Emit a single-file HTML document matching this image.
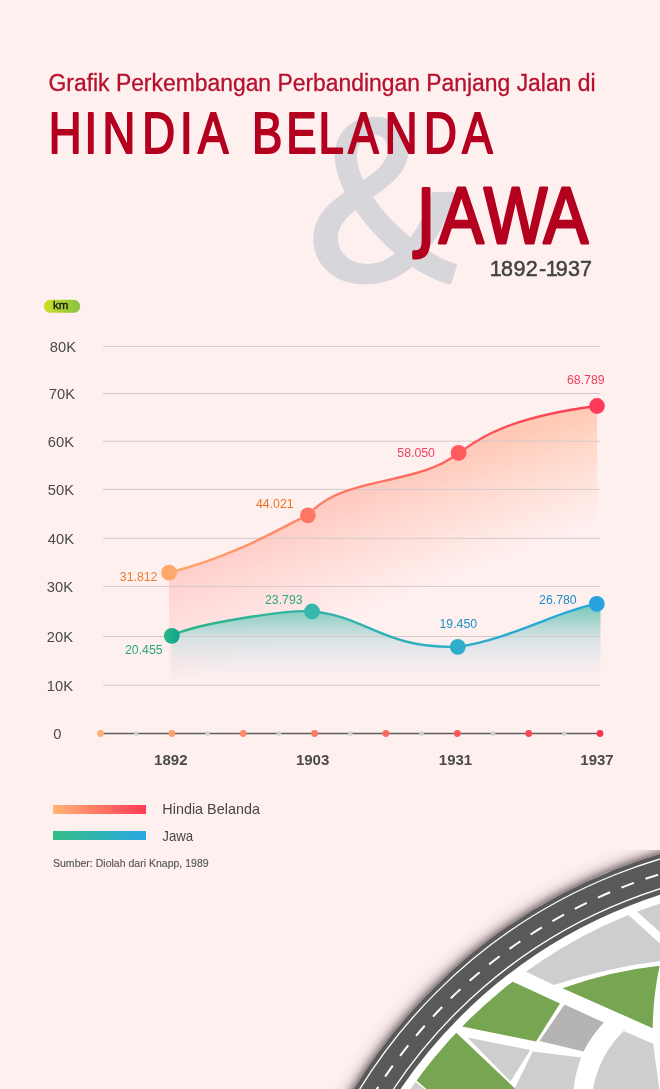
<!DOCTYPE html>
<html><head><meta charset="utf-8">
<style>
html,body{margin:0;padding:0;background:#FFF0F0;}
body{width:660px;height:1089px;overflow:hidden;position:relative;}
svg{position:absolute;left:0;top:0;display:block;}
text{font-family:"Liberation Sans",sans-serif;}
</style></head>
<body>
<svg width="660" height="1089" viewBox="0 0 660 1089">
<defs>
  <linearGradient id="gKm" x1="0" x2="1" y1="0" y2="0"><stop offset="0" stop-color="#CFDF26"/><stop offset="1" stop-color="#86C341"/></linearGradient>
  <linearGradient id="gHB" x1="0" x2="1" y1="0" y2="0"><stop offset="0" stop-color="#FFB575"/><stop offset="1" stop-color="#FF3A55"/></linearGradient>
  <linearGradient id="gJW" x1="0" x2="1" y1="0" y2="0"><stop offset="0" stop-color="#33BD86"/><stop offset="1" stop-color="#28A8E2"/></linearGradient>
  <linearGradient id="gHBline" gradientUnits="userSpaceOnUse" x1="169" x2="597" y1="0" y2="0"><stop offset="0" stop-color="#FFA868"/><stop offset="0.5" stop-color="#FF6F5E"/><stop offset="1" stop-color="#FA3D55"/></linearGradient>
  <linearGradient id="gJWline" gradientUnits="userSpaceOnUse" x1="172" x2="597" y1="0" y2="0"><stop offset="0" stop-color="#2DB583"/><stop offset="0.5" stop-color="#30B2B8"/><stop offset="1" stop-color="#27A4DF"/></linearGradient>
  <linearGradient id="gHBfill" gradientUnits="userSpaceOnUse" x1="169" y1="0" x2="597" y2="0"><stop offset="0" stop-color="#FFC4C2"/><stop offset="0.5" stop-color="#FFC3B6"/><stop offset="1" stop-color="#FFC2A6"/></linearGradient>
  <linearGradient id="gHBmask" gradientUnits="userSpaceOnUse" x1="380" y1="486" x2="421" y2="592"><stop offset="0" stop-color="#D9D9D9"/><stop offset="0.3" stop-color="#8C8C8C"/><stop offset="0.65" stop-color="#404040"/><stop offset="1" stop-color="#000000"/></linearGradient>
  <mask id="mHB" maskUnits="userSpaceOnUse" x="0" y="0" width="660" height="1089"><rect x="150" y="380" width="470" height="340" fill="url(#gHBmask)"/></mask>
  <linearGradient id="gJWfill" gradientUnits="userSpaceOnUse" x1="0" x2="0" y1="604" y2="685"><stop offset="0" stop-color="#74C8B6" stop-opacity="1"/><stop offset="0.45" stop-color="#D5E2E6" stop-opacity="0.9"/><stop offset="1" stop-color="#EEE8EC" stop-opacity="0"/></linearGradient>
  <linearGradient id="gAxis" gradientUnits="userSpaceOnUse" x1="100" x2="600" y1="0" y2="0"><stop offset="0" stop-color="#FFB070"/><stop offset="1" stop-color="#F8354F"/></linearGradient>
  <linearGradient id="gDotJ1" x1="0" x2="1" y1="0" y2="0"><stop offset="0" stop-color="#28BC82"/><stop offset="1" stop-color="#119E92"/></linearGradient>
</defs>

<!-- TITLE -->
<text x="48.5" y="90.6" font-size="23.5" fill="#B5102D" stroke="#B5102D" stroke-width="0.3" textLength="547" lengthAdjust="spacingAndGlyphs">Grafik Perkembangan Perbandingan Panjang Jalan di</text>
<text transform="matrix(1.030,0,0,1,313,283)" x="-5.2" y="-4.2" font-size="215.0" fill="#D6D6DB" stroke="#D6D6DB" stroke-width="4.6" stroke-linejoin="round" style="font-family:'Noto Sans CJK SC', sans-serif;font-weight:400">&amp;</text>
<text transform="matrix(0.8000,0,0,1,51.70,152.90)" x="-3.83 41.00 63.42 113.18 160.50 182.78 199.82 250.51 293.10 333.50 370.84 416.42 465.43 513.34" y="0" font-size="56.81" fill="#B4001F" stroke="#B4001F" stroke-width="2.0" stroke-linejoin="round">HINDIA BELANDA</text>
<text transform="matrix(0.8400,0,0,1,420.60,242.70)" x="-4.64 21.81 75.43 146.27" y="0" font-size="79.71" fill="#B4001F" stroke="#B4001F" stroke-width="3.0" stroke-linejoin="round"><tspan font-size="75.34" style="font-family:'DejaVu Sans', sans-serif">J</tspan>AWA</text>
<text transform="matrix(0.9500,0,0,1,493.75,275.95)" x="-4.19 7.69 20.91 33.64 47.77 54.73 65.38 78.28 90.70" y="0" font-size="22.71" fill="#414141" stroke="#414141" stroke-width="0.5" stroke-linejoin="round">1892-1937</text>

<!-- CHART -->
<rect x="43.8" y="299.8" width="36.4" height="13" rx="6.5" fill="url(#gKm)"/>
<text x="60.6" y="309.3" font-size="11.5" fill="#151515" stroke="#151515" stroke-width="0.35" text-anchor="middle">km</text>


<g font-size="14.7" fill="#4A4A4A" text-anchor="end">
  <text x="76" y="352">80K</text>
  <text x="75" y="399">70K</text>
  <text x="74" y="446.5">60K</text>
  <text x="74" y="494.8">50K</text>
  <text x="74" y="543.7">40K</text>
  <text x="73" y="591.8">30K</text>
  <text x="73" y="641.9">20K</text>
  <text x="73" y="690.7">10K</text>
  <text x="61.5" y="738.9">0</text>
</g>

<!-- fills -->
<path d="M169.1,572.6 C245.3,553.4 298.6,517.3 307.9,515.3 C343.1,474.6 416.3,487.1 458.6,452.9 C467.8,449.5 488.1,419.9 597.0,406.0 L598,680 L169.1,680 Z" fill="url(#gHBfill)" mask="url(#mHB)"/>
<path d="M171.8,635.8 C193.6,623.9 290.3,609.1 312.0,611.5 C366.2,615.7 383.5,649.0 457.8,646.8 C510.1,639.6 563.1,608.7 596.8,603.9 L600.5,603.9 L600.5,682 L171.8,682 Z" fill="url(#gJWfill)"/>
<g stroke="#D3CACB" stroke-width="1">
  <line x1="103" x2="600" y1="346.4" y2="346.4"/>
  <line x1="103" x2="600" y1="393.5" y2="393.5"/>
  <line x1="103" x2="600" y1="441.2" y2="441.2"/>
  <line x1="103" x2="600" y1="489.4" y2="489.4"/>
  <line x1="103" x2="600" y1="538.3" y2="538.3"/>
  <line x1="103" x2="600" y1="586.4" y2="586.4"/>
  <line x1="103" x2="600" y1="636.5" y2="636.5"/>
  <line x1="103" x2="600" y1="685.3" y2="685.3"/>
</g>
<!-- lines -->
<path d="M169.1,572.6 C245.3,553.4 298.6,517.3 307.9,515.3 C343.1,474.6 416.3,487.1 458.6,452.9 C467.8,449.5 488.1,419.9 597.0,406.0" fill="none" stroke="url(#gHBline)" stroke-width="2.4"/>
<path d="M171.8,635.8 C193.6,623.9 290.3,609.1 312.0,611.5 C366.2,615.7 383.5,649.0 457.8,646.8 C510.1,639.6 563.1,608.7 596.8,603.9" fill="none" stroke="url(#gJWline)" stroke-width="2.4"/>
<!-- dots -->
<circle cx="169.1" cy="572.6" r="7.9" fill="#FFA86C"/>
<circle cx="307.9" cy="515.3" r="7.9" fill="#FF7664"/>
<circle cx="458.6" cy="452.9" r="7.9" fill="#FF5A5D"/>
<circle cx="597" cy="406" r="7.9" fill="#FF3A58"/>
<circle cx="171.8" cy="635.8" r="7.9" fill="url(#gDotJ1)"/>
<circle cx="312" cy="611.5" r="7.9" fill="#35B7AE"/>
<circle cx="457.8" cy="646.8" r="7.9" fill="#2EAECA"/>
<circle cx="596.8" cy="603.9" r="7.9" fill="#27A4E0"/>
<!-- value labels -->
<g font-size="12.3">
  <text x="119.8" y="580.6" fill="#EE7B2A">31.812</text>
  <text x="256" y="507.7" fill="#EC7424">44.021</text>
  <text x="397.3" y="456.8" fill="#F0415C">58.050</text>
  <text x="567" y="383.8" fill="#F2405C">68.789</text>
  <text x="125" y="654.4" fill="#28A876">20.455</text>
  <text x="265" y="604" fill="#2BAA82">23.793</text>
  <text x="439.5" y="627.9" fill="#1E91C6">19.450</text>
  <text x="539.1" y="604" fill="#1E8CC6">26.780</text>
</g>

<!-- x axis -->
<line x1="100.5" x2="600" y1="733.5" y2="733.5" stroke="#5E5E5E" stroke-width="1.3"/>
<g id="axdots"><circle cx="100.5" cy="733.5" r="3.4" fill="#FFB070"/><circle cx="136.2" cy="733.5" r="2.3" fill="#CFCFCF"/><circle cx="171.9" cy="733.5" r="3.4" fill="#FE9E6B"/><circle cx="207.5" cy="733.5" r="2.3" fill="#CFCFCF"/><circle cx="243.2" cy="733.5" r="3.4" fill="#FD8D67"/><circle cx="278.9" cy="733.5" r="2.3" fill="#CFCFCF"/><circle cx="314.6" cy="733.5" r="3.4" fill="#FC7B62"/><circle cx="350.3" cy="733.5" r="2.3" fill="#CFCFCF"/><circle cx="385.9" cy="733.5" r="3.4" fill="#FB6A5D"/><circle cx="421.6" cy="733.5" r="2.3" fill="#CFCFCF"/><circle cx="457.3" cy="733.5" r="3.4" fill="#FA5858"/><circle cx="493.0" cy="733.5" r="2.3" fill="#CFCFCF"/><circle cx="528.7" cy="733.5" r="3.4" fill="#F94754"/><circle cx="564.3" cy="733.5" r="2.3" fill="#CFCFCF"/><circle cx="600.0" cy="733.5" r="3.4" fill="#F8354F"/></g>
<g font-size="15" font-weight="bold" fill="#4A4A4A" text-anchor="middle">
  <text x="170.8" y="765.3">1892</text>
  <text x="312.6" y="765.3">1903</text>
  <text x="455.5" y="765.3">1931</text>
  <text x="597" y="765.3">1937</text>
</g>

<!-- legend -->
<rect x="53" y="805" width="93" height="9" fill="url(#gHB)"/>
<rect x="53" y="831" width="93" height="9" fill="url(#gJW)"/>
<text x="162.3" y="813.8" font-size="14.6" fill="#474747" textLength="97.6" lengthAdjust="spacingAndGlyphs">Hindia Belanda</text>
<text x="162.3" y="840.6" font-size="14.6" fill="#474747" textLength="30.9" lengthAdjust="spacingAndGlyphs">Jawa</text>
<text x="53" y="866.7" font-size="10.8" fill="#555" stroke="#555" stroke-width="0.15" textLength="155.6" lengthAdjust="spacingAndGlyphs">Sumber: Diolah dari Knapp, 1989</text>

<!-- ILLUSTRATION -->
<g id="illu">
  <defs>
    <radialGradient id="gShadow" gradientUnits="userSpaceOnUse" cx="811.4" cy="1367.4" r="555.3">
      <stop offset="0.9622" stop-color="#5C4E52" stop-opacity="0.78"/>
      <stop offset="0.9694" stop-color="#5C4E52" stop-opacity="0.45"/>
      <stop offset="0.9766" stop-color="#6A5A5E" stop-opacity="0.2"/>
      <stop offset="0.9856" stop-color="#7A6A6E" stop-opacity="0.06"/>
      <stop offset="1" stop-color="#7A6A6E" stop-opacity="0"/>
    </radialGradient>
    <clipPath id="cShadow"><rect x="0" y="850" width="660" height="300"/></clipPath>
    <clipPath id="cBlocks"><circle cx="811.4" cy="1367.4" r="488"/></clipPath>
  </defs>
  <circle cx="811.4" cy="1367.4" r="555.3" fill="url(#gShadow)" clip-path="url(#cShadow)"/>
  <circle cx="811.4" cy="1367.4" r="535.3" fill="#FFFFFF"/>
  <circle cx="811.4" cy="1367.4" r="515.75" fill="none" stroke="#595959" stroke-width="39.1"/>
  <circle cx="811.4" cy="1367.4" r="530.4" fill="none" stroke="#FFFFFF" stroke-width="1.3"/>
  <circle cx="811.4" cy="1367.4" r="502" fill="none" stroke="#FFFFFF" stroke-width="1.3"/>
  <path d="M758.18,854.15 A516,516 0 0 0 326.52,1190.92" fill="none" stroke="#FFFFFF" stroke-width="2" stroke-dasharray="13.3 12.28"/>
  <g clip-path="url(#cBlocks)">
    <path fill="#CECECE" d="M600,878.3 L600,850 L720,850 L720,986 Z"/>
    <path fill="#CECECE" d="M553.9,985 L500,959.2 L570,870 L590,880.2 L660,943.5 L690,970.6 L690,955 L660,960.9 Q607,967.5 553.9,985 Z"/>
    <path fill="#78A552" d="M562.4,988.2 Q611,971 659.6,965.8 Q653,997 652.7,1028.2 Z"/>
    <path fill="#78A552" d="M480,966.6 L560,1003.4 L536,1041.5 L440,1021.9 Z"/>
    <path fill="#B4B4B4" d="M564.5,1004.5 L603.9,1022.6 A130,130 0 0 0 583.5,1051.4 L539.4,1040.9 Z"/>
    <path fill="#CECECE" d="M467.5,1037.5 L530.3,1050 L510.5,1081.5 Z"/>
    <path fill="#78A552" d="M440,1017.3 L515.4,1089 L426.4,1089 L400,1066.4 Z"/>
    <path fill="#CECECE" d="M400,1070 L424.5,1089 L380,1095 Z"/>
    <path fill="#CECECE" d="M532.7,1051.5 L581.2,1057.6 A130,130 0 0 0 573,1095 L511.6,1095 Z"/>
    <path fill="#CECECE" d="M623.6,1030.9 L653.2,1043.8 L660,1095 L592,1095 A110,110 0 0 1 623.6,1030.9 Z"/>
  </g>
</g>
</svg>
</body></html>
